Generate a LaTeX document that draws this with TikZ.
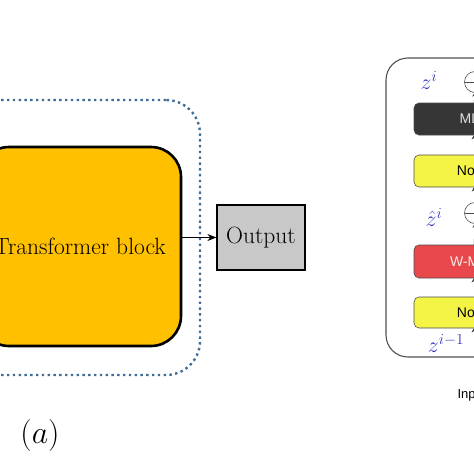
\documentclass[tikz,border=0pt]{standalone}
\usepackage{fix-cm}
\usepackage{fontspec}
\newfontfamily\boxfont{Liberation Sans}
\usetikzlibrary{arrows.meta}
\definecolor{blockorange}{HTML}{FFC000}
\definecolor{outgray}{HTML}{C8C8C8}
\definecolor{dotblue}{HTML}{3F6D96}
\definecolor{mlpdark}{HTML}{363636}
\definecolor{normyellow}{HTML}{F4F447}
\definecolor{wred}{HTML}{E8484B}
\definecolor{zblue}{HTML}{3535C0}
\definecolor{panelgray}{HTML}{505050}
\tikzset{
  bigfont/.style={font=\fontsize{23.5}{27}\selectfont},
  dotframe/.style={draw=dotblue, line width=2.4pt, dash pattern=on 2.4pt off 3.4pt, rounded corners=34pt, minimum width=240pt, minimum height=275pt, inner sep=0pt},
  tblock/.style={draw=black, line width=2.6pt, fill=blockorange, rounded corners=30pt, minimum width=202pt, minimum height=199pt, inner sep=0pt, bigfont},
  outbox/.style={draw=black, line width=1.2pt, fill=outgray, minimum width=88pt, minimum height=65pt, inner sep=0pt, bigfont},
  panelbox/.style={draw=panelgray, line width=1.1pt, rounded corners=22pt, minimum width=178pt, minimum height=299pt, inner sep=0pt},
  layer/.style={draw=black!70, line width=0.6pt, rounded corners=5pt, minimum width=120pt, inner sep=0pt, font=\boxfont\fontsize{14}{16}\selectfont},
  addc/.style={draw=black!70, line width=0.6pt, circle, minimum size=21pt, inner sep=0pt, path picture={\draw[black!70, line width=0.6pt] (path picture bounding box.west) -- (path picture bounding box.east) (path picture bounding box.north) -- (path picture bounding box.south);}},
  zlab/.style={text=zblue, inner sep=0.5pt, font=\fontsize{22}{25}\selectfont},
  small arrow/.style={-{Stealth[length=4pt,width=5pt]}, line width=0.6pt, black!80},
}
\begin{document}
\begin{tikzpicture}[x=1pt,y=-1pt]
\useasboundingbox (0,0) rectangle (474,474);
\clip (0,0) rectangle (474,474);
% left part
\node[dotframe] (frame) at (80,237.5) {};
\node[tblock] (tb) at (80,246.5) {Transformer block};
\node[outbox] (out) at (261,237.5) {Output};
\draw[-{Stealth[length=9pt,width=7pt]}, line width=1.2pt] (tb.east |- out.west) -- (out.west);
\node[font=\fontsize{32}{34}\selectfont] (cap) at (40,435) {$(a)$};
% right panel
\node[panelbox] (panel) at (475,207.5) {};
\node[addc] (add1) at (475,82) {};
\node[layer, fill=mlpdark, text=white!88!black, minimum height=32pt] (mlp) at (474,119) {MLP};
\node[layer, fill=normyellow, text=black, minimum height=32pt] (norm1) at (474,171) {Norm};
\node[addc] (add2) at (475,213) {};
\node[layer, fill=wred, text=white!92!red, minimum height=33pt] (wmsa) at (474,261.5) {W-MSA};
\node[layer, fill=normyellow, text=black, minimum height=31pt] (norm2) at (474,312.5) {Norm};
\node[zlab] (zi) at (429,80) {$z^i$};
\node[zlab] (zhat) at (434,217) {$\hat{z}^i$};
\node[zlab] (zim1) at (446,343) {$z^{i-1}$};
\node[anchor=west, font=\boxfont\fontsize{13}{15}\selectfont] (inp) at (454,395) {Input};
\draw[small arrow] (norm2.north) -- (wmsa.south);
\draw[small arrow] (wmsa.north) -- (add2.south);
\draw[small arrow] (add2.north) -- (norm1.south);
\draw[small arrow] (norm1.north) -- (mlp.south);
\draw[small arrow] (mlp.north) -- (add1.south);
\draw[small arrow] (inp.north -| norm2.south) -- (norm2.south);
\end{tikzpicture}
\end{document}
